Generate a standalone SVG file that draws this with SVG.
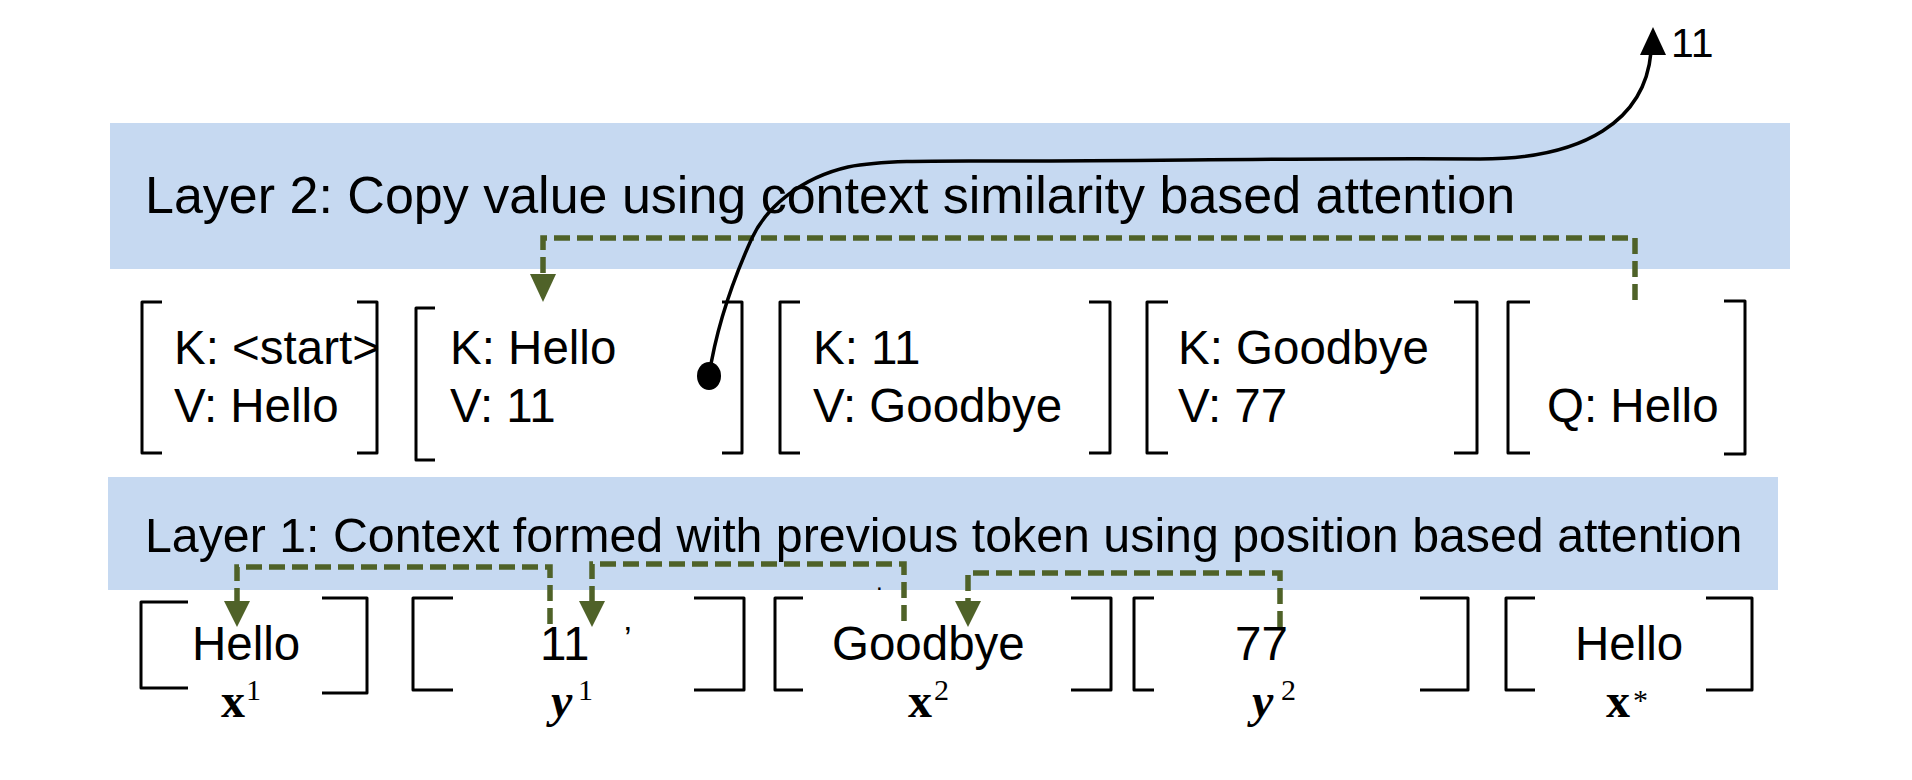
<svg xmlns="http://www.w3.org/2000/svg" width="1912" height="780" viewBox="0 0 1912 780">
<style>
.band{fill:#C6D9F1}
.t{font-family:"Liberation Sans",Arial,sans-serif;fill:#000}
.lay2{font-size:52px}
.lay1{font-size:48.3px}
.kv{font-size:47.5px}
.br{fill:none;stroke:#000;stroke-width:3;stroke-linejoin:round;stroke-linecap:butt}
.dash{fill:none;stroke:#4F6228;stroke-width:5.5;stroke-dasharray:16 7}
.ah{fill:#4F6228}
.m{font-family:"Liberation Serif","Times New Roman",serif;fill:#000}
.mb{font-size:48px;font-weight:bold}
.mi{font-size:48px;font-weight:bold;font-style:italic}
.sup{font-size:30px}
</style>
<rect class="band" x="110" y="123" width="1680" height="146"/>
<rect class="band" x="108" y="477" width="1670" height="113"/>
<text class="t lay2" x="145" y="213">Layer 2: Copy value using context similarity based attention</text>
<text class="t lay1" x="145" y="552">Layer 1: Context formed with previous token using position based attention</text>

<g id="kv1">
<path class="br" d="M162,302 H142 V453 H162"/>
<path class="br" d="M357,302 H377 V453 H357"/>
<text class="t kv" x="174" y="364">K: &lt;start&gt;</text>
<text class="t kv" x="174" y="422">V: Hello</text>
</g>
<g id="kv2">
<path class="br" d="M435,308 H416 V460 H435"/>
<path class="br" d="M722,302 H742 V453 H722"/>
<text class="t kv" x="450" y="364">K: Hello</text>
<text class="t kv" x="450" y="422">V: 11</text>
</g>
<g id="kv3">
<path class="br" d="M800,302 H780 V453 H800"/>
<path class="br" d="M1089,302 H1110 V453 H1089"/>
<text class="t kv" x="813" y="364">K: 11</text>
<text class="t kv" x="813" y="422">V: Goodbye</text>
</g>
<g id="kv4">
<path class="br" d="M1168,302 H1147 V453 H1168"/>
<path class="br" d="M1454,302 H1477 V453 H1454"/>
<text class="t kv" x="1178" y="364">K: Goodbye</text>
<text class="t kv" x="1178" y="422">V: 77</text>
</g>
<g id="q">
<path class="br" d="M1530,302 H1508 V453 H1530"/>
<path class="br" d="M1724,301 H1745 V454 H1724"/>
<text class="t kv" x="1547" y="422">Q: Hello</text>
</g>

<g id="tok1">
<path class="br" d="M188,602 H141 V688 H188"/>
<path class="br" d="M322,598 H367 V693 H322"/>
<text class="t kv" x="192" y="660">Hello</text>
<text class="m mb" x="221" y="717">x</text><text class="m sup" x="246" y="700">1</text>
</g>
<g id="tok2">
<path class="br" d="M453,598 H413 V690 H453"/>
<path class="br" d="M694,598 H744 V690 H694"/>
<text class="t kv" x="540" y="660">11</text>
<text class="t" style="font-size:34px" x="624" y="650">’</text>
<text class="m mi" x="551" y="717">y</text><text class="m sup" x="578" y="700">1</text>
</g>
<g id="tok3">
<path class="br" d="M803,598 H775 V690 H803"/>
<path class="br" d="M1071,598 H1111 V690 H1071"/>
<text class="t kv" x="832" y="660">Goodbye</text>
<text class="t" style="font-size:24px" x="876" y="590">.</text>
<text class="m mb" x="908" y="717">x</text><text class="m sup" x="934" y="700">2</text>
</g>
<g id="tok4">
<path class="br" d="M1154,598 H1134 V690 H1154"/>
<path class="br" d="M1420,598 H1468 V690 H1420"/>
<text class="t kv" x="1235" y="660">77</text>
<text class="m mi" x="1252" y="717">y</text><text class="m sup" x="1281" y="700">2</text>
</g>
<g id="tok5">
<path class="br" d="M1535,598 H1506 V690 H1535"/>
<path class="br" d="M1706,598 H1752 V690 H1706"/>
<text class="t kv" x="1575" y="660">Hello</text>
<text class="m mb" x="1606" y="717">x</text><text class="m sup" x="1633" y="710">*</text>
</g>

<g id="connectors">
<path class="dash" d="M1635,300 V238 H543 V276"/>
<polygon class="ah" points="530,274 556,274 543,302"/>
<path class="dash" d="M550,624 V567 H237 V602"/>
<polygon class="ah" points="224,601 250,601 237,627"/>
<path class="dash" d="M904,621 V564 H592 V602"/>
<polygon class="ah" points="579,601 605,601 592,627"/>
<path class="dash" d="M1280,627 V573 H968 V602"/>
<polygon class="ah" points="955,601 981,601 968,627"/>
<ellipse cx="709" cy="376" rx="12" ry="14" fill="#000"/>
<path fill="none" stroke="#000" stroke-width="3.5" d="M709,376 C716,330 732,282 752,238 C766,208 800,178 848,167 C885,160 940,161 1000,161 C1150,161 1300,158 1480,159 C1585,159 1645,120 1651,52"/>
<polygon fill="#000" points="1653,27 1640,55 1666,55"/>
<text class="t" style="font-size:41px" x="1671" y="57">11</text>
</g>
</svg>
